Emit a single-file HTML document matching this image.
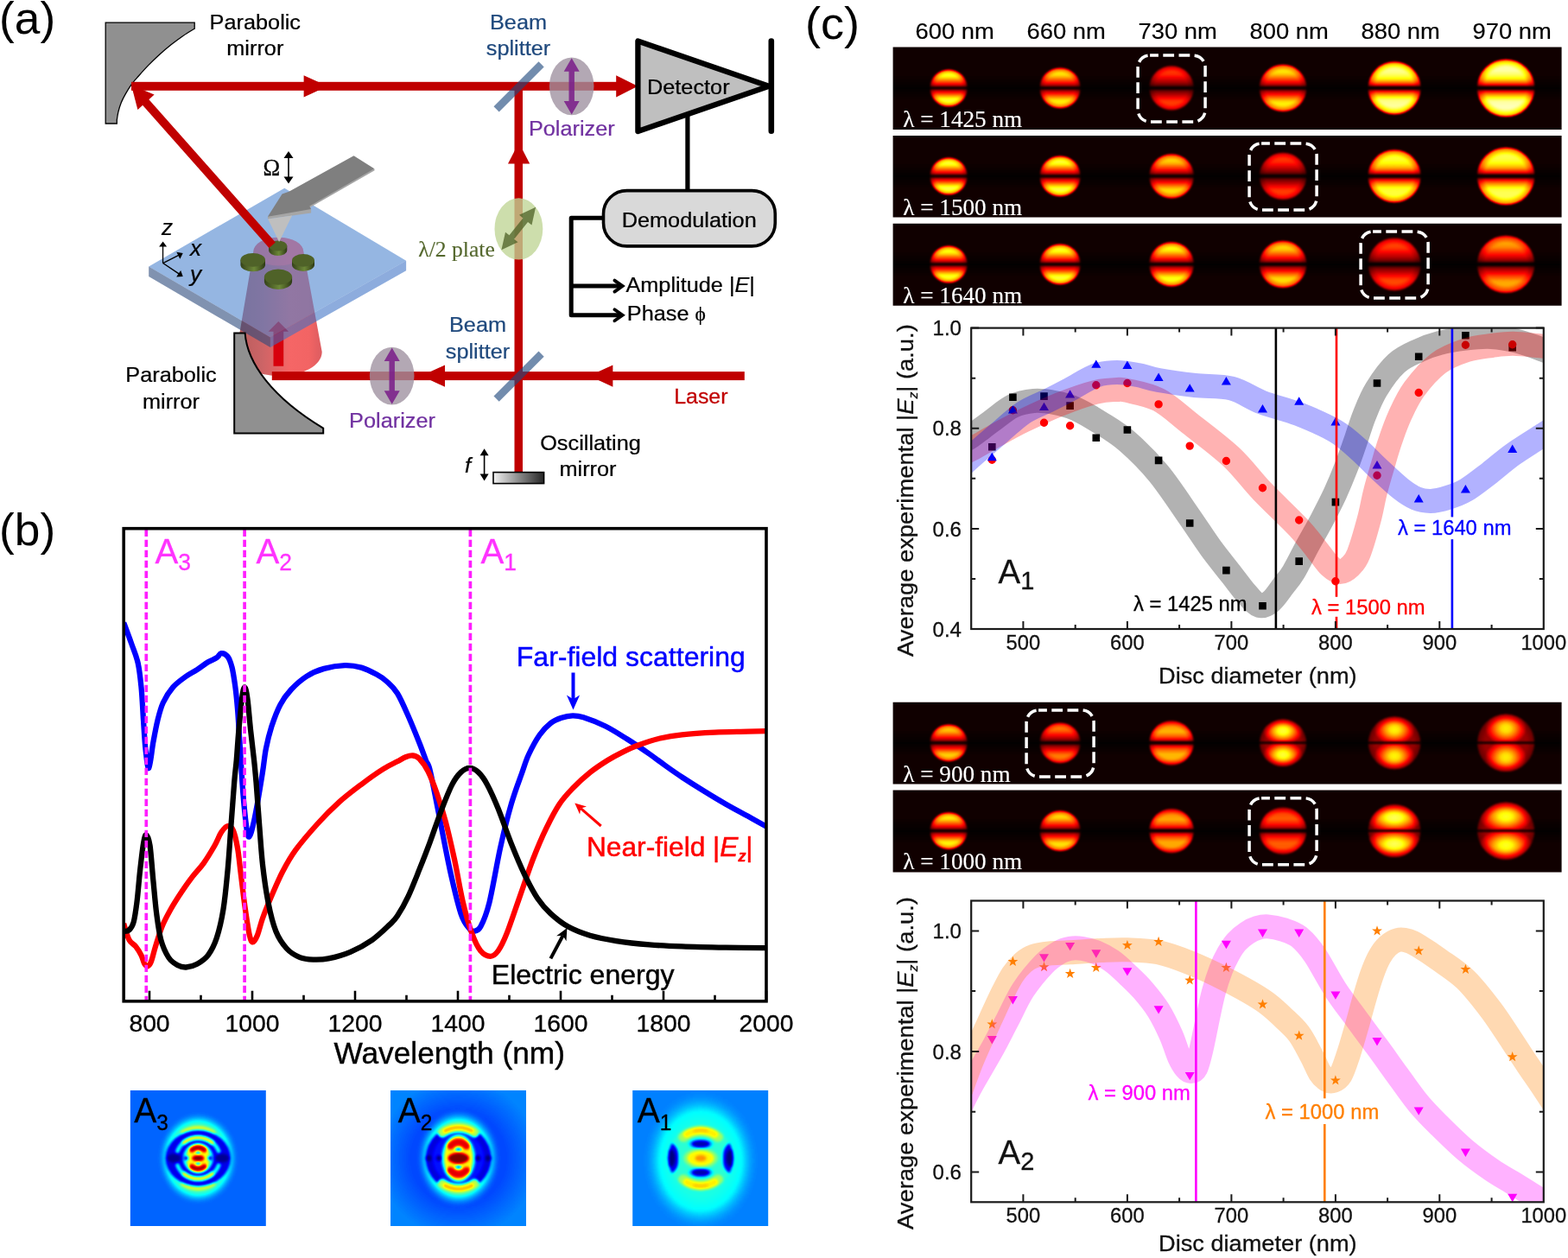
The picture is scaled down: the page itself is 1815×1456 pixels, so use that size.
<!DOCTYPE html>
<html lang="en">
<head>
<meta charset="utf-8">
<title>Near-field mapping of anapole states in silicon discs</title>
<style>
html,body{margin:0;padding:0;background:#fff}
body{width:1815px;height:1456px;overflow:hidden}
svg{display:block}
.s{font-family:"Liberation Sans",Arial,Helvetica,sans-serif}
.r{font-family:"Liberation Serif","Times New Roman",Times,serif}
</style>
</head>
<body>
<svg width="1815" height="1456" viewBox="0 0 1815 1456">
<defs>
<linearGradient id="cone" x1="0" y1="0" x2="1" y2="0"><stop offset="0" stop-color="#b85c5c"/><stop offset="0.3" stop-color="#cc6466"/><stop offset="0.62" stop-color="#f56666"/><stop offset="0.85" stop-color="#f26464"/><stop offset="1" stop-color="#dc5c60"/></linearGradient>
<linearGradient id="dside" x1="0" y1="0" x2="1" y2="0"><stop offset="0" stop-color="#34421a"/><stop offset="0.25" stop-color="#4f6228"/><stop offset="0.55" stop-color="#6c8838"/><stop offset="0.8" stop-color="#4a5c24"/><stop offset="1" stop-color="#2c3814"/></linearGradient>
<linearGradient id="osc" x1="0" y1="0" x2="1" y2="0"><stop offset="0" stop-color="#f2f2f2"/><stop offset="1" stop-color="#262626"/></linearGradient>
<linearGradient id="dge" x1="0" y1="0" x2="0" y2="1"><stop offset="0.000" stop-color="#d1d1d1"/><stop offset="0.050" stop-color="#fafafa"/><stop offset="0.125" stop-color="#ffffff"/><stop offset="0.200" stop-color="#ebebeb"/><stop offset="0.275" stop-color="#bdbdbd"/><stop offset="0.350" stop-color="#8f8f8f"/><stop offset="0.400" stop-color="#6e6e6e"/><stop offset="0.450" stop-color="#454545"/><stop offset="0.477" stop-color="#050505"/><stop offset="0.500" stop-color="#000000"/><stop offset="0.500" stop-color="#000000"/><stop offset="0.522" stop-color="#050505"/><stop offset="0.550" stop-color="#454545"/><stop offset="0.600" stop-color="#6e6e6e"/><stop offset="0.650" stop-color="#8f8f8f"/><stop offset="0.725" stop-color="#cacaca"/><stop offset="0.800" stop-color="#fbfbfb"/><stop offset="0.875" stop-color="#ffffff"/><stop offset="0.950" stop-color="#ffffff"/><stop offset="1.000" stop-color="#e0e0e0"/></linearGradient>
<linearGradient id="dgb" x1="0" y1="0" x2="0" y2="1"><stop offset="0.000" stop-color="#d9d9d9"/><stop offset="0.040" stop-color="#f7f7f7"/><stop offset="0.100" stop-color="#ffffff"/><stop offset="0.200" stop-color="#fafafa"/><stop offset="0.275" stop-color="#e6e6e6"/><stop offset="0.350" stop-color="#c2c2c2"/><stop offset="0.400" stop-color="#949494"/><stop offset="0.450" stop-color="#5c5c5c"/><stop offset="0.477" stop-color="#050505"/><stop offset="0.500" stop-color="#000000"/><stop offset="0.500" stop-color="#000000"/><stop offset="0.522" stop-color="#050505"/><stop offset="0.550" stop-color="#5c5c5c"/><stop offset="0.600" stop-color="#949494"/><stop offset="0.650" stop-color="#c2c2c2"/><stop offset="0.725" stop-color="#f6f6f6"/><stop offset="0.800" stop-color="#ffffff"/><stop offset="0.900" stop-color="#ffffff"/><stop offset="0.960" stop-color="#ffffff"/><stop offset="1.000" stop-color="#e8e8e8"/></linearGradient>
<linearGradient id="dgm" x1="0" y1="0" x2="0" y2="1"><stop offset="0.000" stop-color="#999999"/><stop offset="0.050" stop-color="#c7c7c7"/><stop offset="0.125" stop-color="#ebebeb"/><stop offset="0.250" stop-color="#ffffff"/><stop offset="0.350" stop-color="#cccccc"/><stop offset="0.440" stop-color="#808080"/><stop offset="0.477" stop-color="#050505"/><stop offset="0.500" stop-color="#000000"/><stop offset="0.500" stop-color="#000000"/><stop offset="0.522" stop-color="#050505"/><stop offset="0.560" stop-color="#808080"/><stop offset="0.650" stop-color="#cccccc"/><stop offset="0.750" stop-color="#ffffff"/><stop offset="0.875" stop-color="#fbfbfb"/><stop offset="0.950" stop-color="#d5d5d5"/><stop offset="1.000" stop-color="#a4a4a4"/></linearGradient>
<radialGradient id="dgl"><stop offset="0" stop-color="#fff"/><stop offset="0.25" stop-color="#f0f0f0"/><stop offset="0.5" stop-color="#bdbdbd"/><stop offset="0.75" stop-color="#808080"/><stop offset="1" stop-color="#474747"/></radialGradient>
<radialGradient id="rim"><stop offset="0.72" stop-color="#000" stop-opacity="0"/><stop offset="1" stop-color="#000" stop-opacity="0.38"/></radialGradient>
<linearGradient id="mid" x1="0" y1="0" x2="0" y2="1"><stop offset="0" stop-color="#000" stop-opacity="0"/><stop offset="0.5" stop-color="#000" stop-opacity="0.8"/><stop offset="1" stop-color="#000" stop-opacity="0"/></linearGradient>
<filter id="hot" color-interpolation-filters="sRGB" x="0" y="0" width="1" height="1"><feGaussianBlur stdDeviation="0.85"/><feComponentTransfer><feFuncR type="table" tableValues="0 .34 .68 1 1 1 1 1 1"/><feFuncG type="table" tableValues="0 0 0 .02 .34 .67 1 1 1"/><feFuncB type="table" tableValues="0 0 0 0 0 0 .02 .5 1"/></feComponentTransfer></filter>
<filter id="jet" color-interpolation-filters="sRGB" x="0" y="0" width="1" height="1"><feGaussianBlur stdDeviation="1.5"/><feComponentTransfer><feFuncR type="table" tableValues="0 0 0 0 .5 1 1 1 .5"/><feFuncG type="table" tableValues="0 0 .5 1 1 1 .5 0 0"/><feFuncB type="table" tableValues=".5 1 1 1 .5 0 0 0 0"/></feComponentTransfer></filter>
<radialGradient id="dk2"><stop offset="0.6" stop-color="#323232"/><stop offset="1" stop-color="#323232" stop-opacity="0"/></radialGradient>
<radialGradient id="halo3"><stop offset="0.5" stop-color="#808080"/><stop offset="0.78" stop-color="#666666"/><stop offset="1" stop-color="#393939" stop-opacity="0"/></radialGradient>
<radialGradient id="halo2"><stop offset="0.5" stop-color="#8c8c8c"/><stop offset="0.74" stop-color="#6b6b6b"/><stop offset="1" stop-color="#333333" stop-opacity="0"/></radialGradient>
<radialGradient id="halo1"><stop offset="0.5" stop-color="#666666"/><stop offset="0.7" stop-color="#5f5f5f"/><stop offset="1" stop-color="#404040" stop-opacity="0"/></radialGradient>
<clipPath id="fm3"><rect x="150.8" y="1262" width="157" height="157"/></clipPath>
<clipPath id="fmc3"><circle cx="229.3" cy="1340.5" r="37.6"/></clipPath>
<clipPath id="fm2"><rect x="452" y="1262" width="157" height="157"/></clipPath>
<clipPath id="fmc2"><circle cx="530.7" cy="1340.5" r="37.6"/></clipPath>
<clipPath id="fm1"><rect x="732.2" y="1262" width="157" height="157"/></clipPath>
<clipPath id="fmc1"><circle cx="811.1" cy="1340.5" r="37.6"/></clipPath>
<clipPath id="lc0"><circle cx="1485.1" cy="859.8" r="27.2"/></clipPath>
<clipPath id="lc1"><circle cx="1614.1" cy="859.8" r="30.4"/></clipPath>
<clipPath id="lc2"><circle cx="1743.1" cy="859.8" r="33.2"/></clipPath>
<clipPath id="lc3"><circle cx="1614.1" cy="961.6" r="30.4"/></clipPath>
<clipPath id="lc4"><circle cx="1743.1" cy="961.6" r="33.2"/></clipPath>
<clipPath id="st0"><rect x="1033.6" y="54.6" width="774" height="95.4"/></clipPath>
<clipPath id="st1"><rect x="1033.6" y="157" width="774" height="94.6"/></clipPath>
<clipPath id="st2"><rect x="1033.6" y="258.7" width="774" height="95.1"/></clipPath>
<clipPath id="st3"><rect x="1033.6" y="812.8" width="774" height="94.7"/></clipPath>
<clipPath id="st4"><rect x="1033.6" y="914.6" width="774" height="94.8"/></clipPath>
</defs>
<text class="s" transform="translate(-0.9 39.4) scale(1.024 1)" font-size="52">(a)</text>
<path d="M122.2 26.1H225.2V33.1C222.9 34.5 216.1 38.6 211.6 41.7C207.1 44.8 202.7 48.1 198.3 51.6C193.9 55.1 189.5 58.8 185.1 62.8C180.7 66.8 176.3 70.9 171.9 75.4C167.5 79.9 162 86.2 158.7 89.9C155.4 93.7 154.3 94.8 152.1 97.9C149.9 101 147.5 104.9 145.5 108.4C143.5 111.9 141.6 115.5 140.2 119C138.8 122.5 137.7 126.3 136.9 129.6C136.1 132.9 135.6 137.3 135.3 138.8V143H122.2Z" fill="#909090" stroke="#000" stroke-width="1.3"/>
<text class="s" transform="translate(295.3 33.6) scale(1.045 1)" font-size="24.2" text-anchor="middle" stroke="#000" stroke-width="0.25">Parabolic</text>
<text class="s" transform="translate(295.3 64) scale(1.045 1)" font-size="24.2" text-anchor="middle" stroke="#000" stroke-width="0.25">mirror</text>
<path d="M293.3 291.2A29 16.4 0 0 1 351.3 291.2L372.7 407.2A49.5 28 0 0 1 273.7 407.2Z" fill="url(#cone)"/>
<path d="M316.5 423.8V383.7H310.6L322.3 371.9L334 383.7H328.2V423.8Z" fill="#d8000c"/>
<polygon points="172.2,308.5 329.3,217.8 470.1,301.7 312.9,390.4" fill="#4b83ce" fill-opacity="0.59"/>
<polygon points="172.2,308.5 312.9,390.4 312.9,402 172.2,320.1" fill="#2c4a7c" fill-opacity="0.6"/>
<polygon points="312.9,390.4 470.1,301.7 470.1,313.3 312.9,402" fill="#3a70c4" fill-opacity="0.58"/>
<ellipse cx="322.3" cy="291.2" rx="29" ry="16.4" fill="#c878a8" fill-opacity="0.32"/>
<path d="M271.2 385.4H283.6C286 420 315 460 374.2 495.6V501.4H271.2Z" fill="#909090" stroke="#000" stroke-width="2"/>
<text class="s" transform="translate(198 442.2) scale(1.045 1)" font-size="24.2" text-anchor="middle" stroke="#000" stroke-width="0.25">Parabolic</text>
<text class="s" transform="translate(198 472.8) scale(1.045 1)" font-size="24.2" text-anchor="middle" stroke="#000" stroke-width="0.25">mirror</text>
<path d="M311.1 284.6v5.4a10.6 6 0 0 0 21.2 0v-5.4z" fill="url(#dside)"/><ellipse cx="321.7" cy="284.6" rx="10.6" ry="6" fill="#4f6228"/>
<path d="M278.4 300.8v5.6a14.3 7.9 0 0 0 28.6 0v-5.6z" fill="url(#dside)"/><ellipse cx="292.7" cy="300.8" rx="14.3" ry="7.9" fill="#4f6228"/>
<path d="M338 301.4v5.2a13 7.3 0 0 0 26 0v-5.2z" fill="url(#dside)"/><ellipse cx="351" cy="301.4" rx="13" ry="7.3" fill="#4f6228"/>
<path d="M305.9 320.6v5.2a16.1 9.1 0 0 0 32.2 0v-5.2z" fill="url(#dside)"/><ellipse cx="322" cy="320.6" rx="16.1" ry="9.1" fill="#4f6228"/>
<line x1="315.2" y1="283.7" x2="163" y2="112" stroke="#c00000" stroke-width="9.8"/>
<polygon points="152,98.6 178.6,109.6 159.4,127" fill="#c00000"/>
<polygon points="309.9,250.8 309.9,253.6 360.1,246.4 360.1,242 358.6,240.2 433.6,197.2 433.3,195.3" fill="#a6a6a6"/>
<polygon points="409.5,180.3 433.3,195.3 358.3,238.5 360.1,242 309.9,250.8 326.6,224.4 334.5,221.7" fill="#7f7f7f"/>
<polygon points="310.2,253.4 338.1,249.4 323.1,279.9" fill="#bfbfbf"/>
<text class="r" x="304.6" y="202.6" font-size="26.5" stroke="#000" stroke-width="0.3">Ω</text>
<polygon points="334,174.9 328.5,182.9 333.2,182.9 333.2,204.4 328.5,204.4 334,212.4 339.5,204.4 334.8,204.4 334.8,182.9 339.5,182.9" fill="#000"/>
<text class="s" transform="translate(187 271.5) scale(1.045 1)" font-size="25" font-style="italic" stroke="#000" stroke-width="0.25">z</text>
<text class="s" transform="translate(220 295.5) scale(1.045 1)" font-size="25" font-style="italic" stroke="#000" stroke-width="0.25">x</text>
<text class="s" transform="translate(220 326) scale(1.045 1)" font-size="25" font-style="italic" stroke="#000" stroke-width="0.25">y</text>
<polygon points="189.2,304.6 189.2,285.5 193.1,285.5 188.6,279.5 184.1,285.5 187.9,285.5 187.9,304.6" fill="#000"/>
<polygon points="188.9,305.2 206.6,296.3 208.4,299.7 211.7,293 204.3,291.7 206,295.1 188.3,304" fill="#000"/>
<polygon points="188.2,305.1 206.3,317.2 204.2,320.4 211.7,320 209.2,312.9 207.1,316.1 189,304.1" fill="#000"/>
<rect x="152" y="94.8" width="562" height="10" fill="#c00000"/>
<polygon points="351.6,87.2 379.2,99.8 351.6,112.4" fill="#c00000"/>
<polygon points="713.2,87.2 738.3,99.8 713.2,112.4" fill="#c00000"/>
<rect x="595.5" y="99.8" width="9.5" height="446.5" fill="#c00000"/>
<polygon points="588,189.4 600.6,165.1 613.2,189.4" fill="#c00000"/>
<rect x="314.8" y="430.1" width="547" height="10" fill="#c00000"/>
<polygon points="515,422.5 487.5,435.1 515,447.7" fill="#c00000"/>
<polygon points="709.4,422.5 681.9,435.1 709.4,447.7" fill="#c00000"/>
<line x1="574.6" y1="126.4" x2="626.6" y2="74.4" stroke="#1f497d" stroke-opacity="0.63" stroke-width="8.8"/>
<line x1="574.6" y1="461.6" x2="626.6" y2="409.6" stroke="#1f497d" stroke-opacity="0.63" stroke-width="8.8"/>
<text class="s" transform="translate(600 33.6) scale(1.045 1)" font-size="24.2" text-anchor="middle" fill="#1f497d" stroke="#1f497d" stroke-width="0.25">Beam</text>
<text class="s" transform="translate(600 64) scale(1.045 1)" font-size="24.2" text-anchor="middle" fill="#1f497d" stroke="#1f497d" stroke-width="0.25">splitter</text>
<text class="s" transform="translate(553 384.2) scale(1.045 1)" font-size="24.2" text-anchor="middle" fill="#1f497d" stroke="#1f497d" stroke-width="0.25">Beam</text>
<text class="s" transform="translate(553 414.6) scale(1.045 1)" font-size="24.2" text-anchor="middle" fill="#1f497d" stroke="#1f497d" stroke-width="0.25">splitter</text>
<ellipse cx="661.7" cy="99.8" rx="25.8" ry="33.4" fill="#9e91a0" fill-opacity="0.79"/>
<polygon points="661.7,67.2 652.7,82.7 658.5,82.7 658.5,116.9 652.7,116.9 661.7,132.4 670.7,116.9 664.9,116.9 664.9,82.7 670.7,82.7" fill="#7b1f8a" fill-opacity="0.88"/>
<ellipse cx="453.7" cy="435.1" rx="25.8" ry="33.4" fill="#9e91a0" fill-opacity="0.79"/>
<polygon points="453.7,402.5 444.7,418 450.5,418 450.5,452.2 444.7,452.2 453.7,467.7 462.7,452.2 456.9,452.2 456.9,418 462.7,418" fill="#7b1f8a" fill-opacity="0.88"/>
<text class="s" transform="translate(661.8 156.5) scale(1.045 1)" font-size="24.2" text-anchor="middle" fill="#7030a0" stroke="#7030a0" stroke-width="0.25">Polarizer</text>
<text class="s" transform="translate(454 494.8) scale(1.045 1)" font-size="24.2" text-anchor="middle" fill="#7030a0" stroke="#7030a0" stroke-width="0.25">Polarizer</text>
<ellipse cx="600.4" cy="264.9" rx="27.9" ry="35.7" fill="#c0d596" fill-opacity="0.79"/>
<polygon points="580.4,289.3 599.5,280.3 595.1,276.7 611,256.9 615.5,260.4 620.1,239.8 601,248.8 605.4,252.4 589.5,272.2 585,268.7" fill="#4f6228" fill-opacity="0.76"/>
<text class="r" x="484.3" y="297.3" font-size="25.6" fill="#55682e" stroke="#55682e" stroke-width="0.15">λ/2 plate</text>
<polygon points="738.4,47.5 738.4,152 890,99.75" fill="#bfbfbf" stroke="#000" stroke-width="6.3" stroke-linejoin="round"/>
<line x1="892.8" y1="47.6" x2="892.8" y2="151.8" stroke="#000" stroke-width="6.6" stroke-linecap="round"/>
<text class="s" transform="translate(796.8 109.4) scale(1.045 1)" font-size="24.2" text-anchor="middle" stroke="#000" stroke-width="0.25">Detector</text>
<line x1="795.9" y1="132" x2="795.9" y2="221" stroke="#000" stroke-width="5.2"/>
<rect x="698.5" y="220.6" width="198.8" height="64.3" rx="27" fill="#d9d9d9" stroke="#000" stroke-width="3.6"/>
<text class="s" transform="translate(797.7 262.5) scale(1.045 1)" font-size="24.2" text-anchor="middle" stroke="#000" stroke-width="0.25">Demodulation</text>
<path d="M698 252.2H661.2V364.8H718M661.2 331.1H718" fill="none" stroke="#000" stroke-width="5" stroke-linejoin="round"/>
<path d="M711.4 324.6L720.6 331.1L711.4 337.6M711.4 358.3L720.6 364.8L711.4 371.3" fill="none" stroke="#000" stroke-width="3.8" stroke-linecap="round" stroke-linejoin="miter"/>
<text class="s" transform="translate(724.4 338) scale(1.045 1)" font-size="24.2" stroke="#000" stroke-width="0.25">Amplitude |<tspan font-style="italic">E</tspan>|</text>
<text class="s" transform="translate(725.8 371.2) scale(1.045 1)" font-size="24.2" stroke="#000" stroke-width="0.25">Phase <tspan class="r" font-size="22.5">ϕ</tspan></text>
<text class="s" transform="translate(780.2 466.7) scale(1.030 1)" font-size="24.2" fill="#c00000" stroke="#c00000" stroke-width="0.25">Laser</text>
<rect x="571" y="546.6" width="58.6" height="13" fill="url(#osc)" stroke="#000" stroke-width="1.6"/>
<text class="s" transform="translate(683.5 520.5) scale(1.045 1)" font-size="24.2" text-anchor="middle" stroke="#000" stroke-width="0.25">Oscillating</text>
<text class="s" transform="translate(680.5 551) scale(1.045 1)" font-size="24.2" text-anchor="middle" stroke="#000" stroke-width="0.25">mirror</text>
<text class="s" transform="translate(538 546.5) scale(1.045 1)" font-size="24.2" font-style="italic" stroke="#000" stroke-width="0.25">f</text>
<polygon points="560.6,519.2 555.6,527.2 559.8,527.2 559.8,548.5 555.6,548.5 560.6,556.5 565.6,548.5 561.4,548.5 561.4,527.2 565.6,527.2" fill="#000"/>
<text class="s" transform="translate(-0.9 630.6) scale(1.024 1)" font-size="52">(b)</text>
<clipPath id="cpb"><rect x="143.2" y="611.7" width="743.8" height="547.1"/></clipPath>
<g fill="none" stroke-linejoin="round" clip-path="url(#cpb)">
<path d="M143.2 720.7C144.7 724.7 149.3 736.9 152.1 744.7C154.8 752.5 157.8 759 159.7 767.5C161.6 776 162.4 784.4 163.5 795.4C164.6 806.4 165.2 821.4 166 833.4C166.8 845.4 167.4 858.1 168.5 867.4C169.6 876.7 170.8 890.4 172.3 889C173.8 887.6 175.7 868.1 177.4 858.8C179.1 849.5 180.6 841 182.5 833.4C184.4 825.8 185.9 819.5 188.8 813.2C191.8 806.9 195.8 800.5 200.2 795.4C204.6 790.3 210.8 786.2 215.4 782.8C220.1 779.4 223.9 777.9 228.1 775.1C232.3 772.4 237 768.6 240.8 766.3C244.6 764 248.4 762.9 250.9 761.2C253.4 759.5 253.9 756.3 256 756.1C258.1 755.9 261.5 757.2 263.6 760C265.7 762.8 267.1 766.7 268.6 772.6C270.1 778.5 271.3 787.4 272.4 795.4C273.5 803.4 274.1 810.2 275 820.8C275.9 831.4 276.4 842.6 277.5 858.8C278.6 875 280 901.8 281.3 918C282.6 934.2 284 947.5 285.1 956C286.2 964.5 286.9 968.7 288.2 968.7C289.5 968.7 291.1 962.3 292.7 956C294.3 949.7 295.9 941.2 297.8 930.7C299.7 920.2 302.4 903.4 304.1 892.7C305.8 882 306.2 875 307.9 866.4C309.6 857.8 311.6 849.5 314.3 841C317.1 832.5 320.6 822.9 324.4 815.7C328.2 808.5 332 803.5 337.1 798C342.2 792.5 348.5 786.8 354.8 782.8C361.1 778.8 367.7 776 375.1 773.9C382.5 771.8 392 770.3 399.2 770.1C406.4 769.9 412.1 770.9 418.2 772.6C424.3 774.4 430.9 777.9 435.9 780.6C440.9 783.3 444 785.4 448 789C452 792.6 455.9 795.8 460 802.5C464.1 809.2 468.5 819.5 472.7 829C476.9 838.5 481.9 851 485.3 859.5C488.7 868 490.9 874.5 493 880C495.1 885.5 495.5 882.1 498 892.7C500.5 903.3 504.4 924.4 508.2 943.4C512 962.4 516.6 987.7 520.8 1006.7C525 1025.7 529.7 1046 533.5 1057.4C537.3 1068.8 541.1 1071.8 543.6 1075.2C546.1 1078.6 546.6 1078.1 548.7 1077.7C550.8 1077.3 553.3 1078.1 556.3 1072.6C559.2 1067.1 562.6 1059.9 566.4 1044.7C570.2 1029.5 574.9 1000.4 579.1 981.4C583.3 962.4 587.6 945.1 591.8 930.7C595.9 916.3 600.6 904.6 604 895C607.4 885.4 608.6 880.4 612.1 873C615.6 865.6 620.5 856.5 624.7 850.5C628.9 844.5 633.2 840.3 637.4 837C641.6 833.7 645.9 832.2 650.1 830.7C654.3 829.2 658.6 828.4 662.8 828.3C667 828.2 669.1 828.2 675.4 830.2C681.7 832.2 692.3 836.3 700.8 840.5C709.2 844.7 717.6 850.2 726.1 855.5C734.6 860.8 744.2 867.4 751.5 872.5C758.8 877.6 763.7 881.5 770 886C776.3 890.5 782 894.6 789.5 899.5C797 904.4 806.3 910.3 814.8 915.5C823.2 920.7 831.8 925.9 840.2 930.7C848.7 935.6 857.7 940.3 865.5 944.6C873.3 948.9 883.4 954.6 887 956.6" stroke="#0000ff" stroke-width="6.3"/>
<path d="M143.2 1069C144.2 1072.1 147.2 1083.4 149.5 1087.8C151.8 1092.2 154.8 1092.4 157.1 1095.4C159.4 1098.4 161.8 1102.2 163.5 1105.6C165.2 1109 166 1113.6 167.3 1115.7C168.6 1117.8 169.8 1118.6 171.1 1118.2C172.4 1117.8 173.4 1117 174.9 1113.2C176.4 1109.4 177.9 1102.2 180 1095.4C182.1 1088.6 184.6 1079.8 187.5 1072.6C190.4 1065.4 193.9 1059.1 197.7 1052.3C201.5 1045.5 206.2 1038.3 210.4 1032C214.6 1025.7 218.8 1019.8 223 1014.3C227.2 1008.8 231.5 1005 235.7 999.1C239.9 993.2 245 984.7 248.4 978.8C251.8 972.9 253.5 967.4 256 963.6C258.5 959.8 261.3 956.4 263.6 956C265.9 955.6 268 956.9 269.9 961.1C271.8 965.3 273.5 973 275 981.4C276.5 989.8 277.3 1000 278.8 1011.8C280.3 1023.6 282.2 1040.5 283.9 1052.3C285.6 1064.1 287.4 1076.4 288.9 1082.8C290.4 1089.2 291.2 1090.4 292.7 1090.4C294.2 1090.4 295.9 1087.5 297.8 1082.8C299.7 1078.1 301.4 1070.1 304.1 1062.5C306.9 1054.9 310.5 1046 314.3 1037.1C318.1 1028.2 322.3 1018.2 326.9 1009.3C331.5 1000.4 335.3 993.2 342.1 983.9C348.9 974.6 359.1 962.8 367.5 953.5C375.9 944.2 384.4 935.8 392.8 928.2C401.2 920.6 409.8 914.2 418.2 907.9C426.6 901.5 436.5 894.5 443.5 890.1C450.5 885.7 455.6 883.6 460 881.3C464.4 878.9 467 877.1 470 876C473 874.9 475.4 874.2 478 874.5C480.6 874.8 482.4 875 485.3 878C488.2 881 492.1 886 495.5 892.7C498.9 899.4 502.2 908.3 505.6 918C509 927.7 512.4 938.3 515.8 951C519.2 963.7 522.5 978.4 525.9 994C529.3 1009.6 532.6 1030.3 536 1044.7C539.4 1059.1 542.8 1070.9 546.2 1080.2C549.6 1089.5 552.7 1096.1 556.3 1100.5C559.9 1104.9 564.3 1106.8 567.7 1106.8C571.1 1106.8 573.4 1104.9 576.6 1100.5C579.8 1096.1 582.5 1090.8 586.7 1080.2C590.9 1069.6 596.8 1051.5 601.9 1037.1C607 1022.7 612 1007.1 617.1 994C622.2 980.9 627.2 969.1 632.3 958.6C637.4 948.1 642.4 938.4 647.5 930.7C652.6 923 656.9 918.6 662.8 912.5C668.7 906.4 676.2 899.4 683 894C689.8 888.6 697.1 883.9 703.3 880C709.5 876.1 714.1 873.7 720 870.8C725.9 867.9 731.4 865.2 738.8 862.5C746.1 859.8 755.6 856.5 764.1 854.5C772.6 852.5 778.9 851.4 789.5 850.3C800.1 849.1 814.8 848.2 827.5 847.6C840.2 847 855.6 846.9 865.5 846.6C875.4 846.4 883.4 846.2 887 846.1" stroke="#ff0000" stroke-width="6.3"/>
<path d="M143.2 1078C144.2 1077.7 147.6 1078.2 149.5 1076.4C151.4 1074.7 153.1 1072.8 154.6 1067.5C156.1 1062.2 157.1 1054.8 158.4 1044.7C159.7 1034.6 160.9 1018.1 162.2 1006.7C163.5 995.3 164.8 983 166 976.3C167.2 969.5 168 965.8 169.3 966.2C170.6 966.6 172.2 969.9 173.6 978.8C174.9 987.7 176.1 1006.3 177.4 1019.4C178.7 1032.5 179.7 1046 181.2 1057.4C182.7 1068.8 184 1079.3 186.3 1087.8C188.6 1096.2 191.9 1103.2 195.1 1108.1C198.3 1113 201.9 1115.1 205.3 1117C208.7 1118.9 211.6 1119.7 215.4 1119.5C219.2 1119.3 223.9 1118 228.1 1115.7C232.3 1113.4 237 1110.7 240.8 1105.6C244.6 1100.5 248 1094.2 250.9 1085.3C253.8 1076.4 256.4 1065.4 258.5 1052.3C260.6 1039.2 262.1 1022.8 263.6 1006.7C265.1 990.7 266.1 972.9 267.4 956C268.7 939.1 270.1 918 271.2 905.3C272.2 892.6 272.8 889.9 273.7 880C274.6 870.1 275.2 858.1 276.3 846.1C277.4 834.1 279 816.6 280.1 808.1C281.2 799.6 282.1 795.4 283.1 795.4C284.2 795.4 285.2 799.6 286.4 808.1C287.6 816.6 288.9 834.3 290.2 846.1C291.5 857.9 292.9 869.2 294 879.1C295.1 889 295.4 892.5 296.5 905.3C297.6 918.1 299 940 300.3 956C301.6 972 302.4 986.8 304.1 1001.6C305.8 1016.4 308 1032 310.5 1044.7C313 1057.4 315.7 1068.8 319.3 1077.7C322.9 1086.6 327.4 1092.9 332 1098C336.6 1103.1 342.1 1106 347.2 1108.1C352.3 1110.2 356.9 1110.4 362.4 1110.6C367.9 1110.8 373 1110.9 380.2 1109.4C387.4 1107.9 397.1 1105.4 405.5 1101.8C413.9 1098.2 423.3 1093.1 430.9 1087.8C438.5 1082.5 446.2 1074.7 451.1 1070.1C456 1065.5 456.4 1065.5 460 1060C463.6 1054.5 468.5 1046 472.7 1037.1C476.9 1028.2 481.1 1017.2 485.3 1006.7C489.5 996.2 493.8 985.2 498 973.8C502.2 962.4 506.5 949.3 510.7 938.3C514.9 927.3 519.6 915.3 523.4 907.9C527.2 900.5 530.1 897.1 533.5 893.9C536.9 890.7 540.2 888.9 543.6 888.9C547 888.9 550.4 890.7 553.8 893.9C557.2 897.1 560.1 900.9 563.9 907.9C567.7 914.9 572 924.4 576.6 935.8C581.2 947.2 586.7 963.6 591.8 976.3C596.9 989 601.9 1001.2 607 1011.8C612.1 1022.4 617.1 1032.1 622.2 1039.7C627.3 1047.3 631.5 1051.9 637.4 1057.4C643.3 1062.9 650.1 1068.4 657.7 1072.6C665.3 1076.8 673.7 1080 683 1082.8C692.3 1085.5 702 1087.3 713.4 1089.1C724.8 1090.9 738.8 1092.4 751.5 1093.4C764.2 1094.5 774.7 1094.9 789.5 1095.4C804.3 1096 824 1096.4 840.2 1096.7C856.5 1097 879.2 1097.1 887 1097.2" stroke="#000" stroke-width="6.3"/>
</g>
<line x1="169.3" y1="612.7" x2="169.3" y2="1158.8" stroke="#ff1eff" stroke-width="3.7" stroke-dasharray="8.4 3.6"/>
<line x1="283.1" y1="612.7" x2="283.1" y2="1158.8" stroke="#ff1eff" stroke-width="3.7" stroke-dasharray="8.4 3.6"/>
<line x1="544.4" y1="612.7" x2="544.4" y2="1158.8" stroke="#ff1eff" stroke-width="3.7" stroke-dasharray="8.4 3.6"/>
<path d="M173 1158.8v-12M232.5 1158.8v-7M292 1158.8v-12M351.5 1158.8v-7M411 1158.8v-12M470.5 1158.8v-7M530 1158.8v-12M589.5 1158.8v-7M649 1158.8v-12M708.5 1158.8v-7M768 1158.8v-12M827.5 1158.8v-7M887 1158.8v-12" stroke="#000" stroke-width="2.6" fill="none"/>
<rect x="143.2" y="611.7" width="743.8" height="547.1" fill="none" stroke="#000" stroke-width="3.6"/>
<text class="s" transform="translate(173 1194.2) scale(1.030 1)" font-size="27.5" text-anchor="middle" stroke="#000" stroke-width="0.3">800</text>
<text class="s" transform="translate(292 1194.2) scale(1.030 1)" font-size="27.5" text-anchor="middle" stroke="#000" stroke-width="0.3">1000</text>
<text class="s" transform="translate(411 1194.2) scale(1.030 1)" font-size="27.5" text-anchor="middle" stroke="#000" stroke-width="0.3">1200</text>
<text class="s" transform="translate(530 1194.2) scale(1.030 1)" font-size="27.5" text-anchor="middle" stroke="#000" stroke-width="0.3">1400</text>
<text class="s" transform="translate(649 1194.2) scale(1.030 1)" font-size="27.5" text-anchor="middle" stroke="#000" stroke-width="0.3">1600</text>
<text class="s" transform="translate(768 1194.2) scale(1.030 1)" font-size="27.5" text-anchor="middle" stroke="#000" stroke-width="0.3">1800</text>
<text class="s" transform="translate(887 1194.2) scale(1.030 1)" font-size="27.5" text-anchor="middle" stroke="#000" stroke-width="0.3">2000</text>
<text class="s" transform="translate(520.2 1230.6) scale(1.024 1)" font-size="34.5" text-anchor="middle" stroke="#000" stroke-width="0.4">Wavelength (nm)</text>
<text class="s" transform="translate(179.4 652.4) scale(0.98 1)" font-size="41" fill="#ff33ff" stroke="#ff33ff" stroke-width="0.3">A<tspan font-size="27" dy="7.6">3</tspan></text>
<text class="s" transform="translate(296.4 652.4) scale(0.98 1)" font-size="41" fill="#ff33ff" stroke="#ff33ff" stroke-width="0.3">A<tspan font-size="27" dy="7.6">2</tspan></text>
<text class="s" transform="translate(556.4 652.4) scale(0.98 1)" font-size="41" fill="#ff33ff" stroke="#ff33ff" stroke-width="0.3">A<tspan font-size="27" dy="7.6">1</tspan></text>
<text class="s" x="597.8" y="771.4" font-size="32" fill="#0000ff" stroke="#0000ff" stroke-width="0.45">Far-field scattering</text>
<line x1="663.5" y1="778.5" x2="663.5" y2="809.3" stroke="#0000ff" stroke-width="4"/><polygon points="663.5,821.5 655.9,804.5 663.5,809.3 671.1,804.5" fill="#0000ff"/>
<text class="s" transform="translate(679 990.6) scale(0.99 1)" font-size="32" fill="#ff0000" stroke="#f00" stroke-width="0.5">Near-field |<tspan font-style="italic">E</tspan><tspan font-style="italic" font-weight="bold" font-size="18" dy="6.5">z</tspan><tspan dy="-6.5">|</tspan></text>
<line x1="695.7" y1="956" x2="672.3" y2="935.6" stroke="#ff0000" stroke-width="3"/><polygon points="665.3,929.4 679,933.4 672.3,935.6 671.1,942.5" fill="#ff0000"/>
<text class="s" x="568.8" y="1139.4" font-size="32" stroke="#000" stroke-width="0.45">Electric energy</text>
<line x1="637.4" y1="1109.4" x2="651.6" y2="1082.8" stroke="#000" stroke-width="4"/><polygon points="656.4,1073.9 655.5,1089.3 651.6,1082.8 644.1,1083.2" fill="#000"/>
<g clip-path="url(#fm3)"><g filter="url(#jet)">
<rect x="142.8" y="1254" width="173" height="173" fill="#393939"/>
<ellipse cx="229.3" cy="1340.5" rx="47" ry="54" fill="url(#halo3)"/>
<path d="M211.3 1310.6A34 35.2 0 0 1 247.3 1310.6" fill="none" stroke="#999999" stroke-width="4.6" stroke-linecap="round"/><path d="M247.3 1370.4A34 35.2 0 0 1 211.3 1370.4" fill="none" stroke="#999999" stroke-width="4.6" stroke-linecap="round"/>
<ellipse cx="229.3" cy="1340.5" rx="37.6" ry="32.4" fill="#1a1a1a"/>
<path d="M205.4 1332.3A25.4 24 0 0 1 253.2 1332.3" fill="none" stroke="#666666" stroke-width="4.6" stroke-linecap="round"/><path d="M253.2 1348.7A25.4 24 0 0 1 205.4 1348.7" fill="none" stroke="#666666" stroke-width="4.6" stroke-linecap="round"/>
<path d="M213.1 1322.3A25.2 23.8 0 0 1 245.5 1322.3" fill="none" stroke="#a1a1a1" stroke-width="5" stroke-linecap="round"/><path d="M245.5 1358.7A25.2 23.8 0 0 1 213.1 1358.7" fill="none" stroke="#a1a1a1" stroke-width="5" stroke-linecap="round"/>
<ellipse cx="229.3" cy="1340.5" rx="17.6" ry="17.2" fill="#666666"/>
<ellipse cx="229.3" cy="1340.5" rx="13.5" ry="16.6" fill="#9e9e9e"/>
<path d="M222.2 1330.6A12 12.2 0 0 1 236.4 1330.6" fill="none" stroke="#f7f7f7" stroke-width="6" stroke-linecap="round"/><path d="M236.4 1350.4A12 12.2 0 0 1 222.2 1350.4" fill="none" stroke="#f7f7f7" stroke-width="6" stroke-linecap="round"/>
<ellipse cx="229.3" cy="1340.5" rx="7" ry="3.6" fill="#ffffff"/>
<ellipse cx="229.3" cy="1334.2" rx="2.4" ry="1.2" fill="#1a1a1a"/><ellipse cx="229.3" cy="1346.8" rx="2.4" ry="1.2" fill="#1a1a1a"/>
<ellipse cx="215.5" cy="1340.5" rx="2.6" ry="2.4" fill="#1a1a1a"/><ellipse cx="243.1" cy="1340.5" rx="2.6" ry="2.4" fill="#1a1a1a"/>
<ellipse cx="201.3" cy="1340.5" rx="8" ry="5" fill="#050505"/><ellipse cx="257.3" cy="1340.5" rx="8" ry="5" fill="#050505"/>
</g></g>
<text class="s" transform="translate(155.2 1298.8) scale(0.98 1)" font-size="39.8" stroke="#000" stroke-width="0.3">A<tspan font-size="25" dy="8.7">3</tspan></text>
<g clip-path="url(#fm2)"><g filter="url(#jet)">
<rect x="444" y="1254" width="173" height="173" fill="#414141"/>
<circle cx="530.7" cy="1340.5" r="92" fill="url(#dk2)"/>
<ellipse cx="530.7" cy="1340.5" rx="49" ry="58" fill="url(#halo2)"/>
<ellipse cx="530.7" cy="1340.5" rx="37.8" ry="37.8" fill="#171717"/>
<ellipse cx="530.7" cy="1340.5" rx="30" ry="30" fill="#242424"/>
<path d="M512.2 1311A34 35.2 0 0 1 549.2 1311" fill="none" stroke="#8c8c8c" stroke-width="10.5" stroke-linecap="round"/><path d="M549.2 1370A34 35.2 0 0 1 512.2 1370" fill="none" stroke="#8c8c8c" stroke-width="10.5" stroke-linecap="round"/>
<path d="M515.3 1308.8A34 35.6 0 0 1 546.1 1308.8" fill="none" stroke="#b2b2b2" stroke-width="5" stroke-linecap="round"/><path d="M546.1 1372.2A34 35.6 0 0 1 515.3 1372.2" fill="none" stroke="#b2b2b2" stroke-width="5" stroke-linecap="round"/>
<ellipse cx="530.7" cy="1340.5" rx="19.5" ry="27.6" fill="#666666"/>
<ellipse cx="530.7" cy="1340.5" rx="16.4" ry="25.6" fill="#a1a1a1"/>
<path d="M521.4 1326.3A14.4 18.6 0 0 1 540 1326.3" fill="none" stroke="#e6e6e6" stroke-width="8.4" stroke-linecap="round"/><path d="M540 1354.7A14.4 18.6 0 0 1 521.4 1354.7" fill="none" stroke="#e6e6e6" stroke-width="8.4" stroke-linecap="round"/>
<ellipse cx="530.7" cy="1340.5" rx="12" ry="6.4" fill="#ffffff"/>
<ellipse cx="530.7" cy="1330.3" rx="3.4" ry="1.5" fill="#1a1a1a"/><ellipse cx="530.7" cy="1350.7" rx="3.4" ry="1.5" fill="#1a1a1a"/>
<ellipse cx="496.2" cy="1340.5" rx="3.5" ry="3.5" fill="#000000"/><ellipse cx="565.2" cy="1340.5" rx="3.5" ry="3.5" fill="#000000"/>
<ellipse cx="508.2" cy="1340.5" rx="3" ry="3" fill="#000000"/><ellipse cx="553.2" cy="1340.5" rx="3" ry="3" fill="#000000"/>
</g></g>
<text class="s" transform="translate(460.8 1298.8) scale(0.98 1)" font-size="39.8" stroke="#000" stroke-width="0.3">A<tspan font-size="25" dy="8.7">2</tspan></text>
<g clip-path="url(#fm1)"><g filter="url(#jet)">
<rect x="724.2" y="1254" width="173" height="173" fill="#404040"/>
<ellipse cx="811.1" cy="1343.5" rx="68" ry="82" fill="url(#halo1)"/>
<g clip-path="url(#fmc1)">
<ellipse cx="811.1" cy="1340.5" rx="38" ry="38" fill="#6a6a6a"/>
<path d="M791.1 1315.6A32.5 31.6 0 0 1 831.1 1315.6" fill="none" stroke="#878787" stroke-width="12" stroke-linecap="round"/><path d="M831.1 1365.4A32.5 31.6 0 0 1 791.1 1365.4" fill="none" stroke="#878787" stroke-width="12" stroke-linecap="round"/>
<path d="M794.8 1312.8A32.5 32 0 0 1 827.3 1312.8" fill="none" stroke="#a3a3a3" stroke-width="8.4" stroke-linecap="round"/><path d="M827.3 1368.2A32.5 32 0 0 1 794.8 1368.2" fill="none" stroke="#a3a3a3" stroke-width="8.4" stroke-linecap="round"/>
<path d="M804.3 1308.8A32.5 32.4 0 0 1 817.8 1308.8" fill="none" stroke="#acacac" stroke-width="4.4" stroke-linecap="round"/><path d="M817.8 1372.2A32.5 32.4 0 0 1 804.3 1372.2" fill="none" stroke="#acacac" stroke-width="4.4" stroke-linecap="round"/>
<rect x="758.1" y="1322" width="27" height="37" rx="12" ry="15" fill="#1a1a1a"/>
<rect x="837.1" y="1322" width="27" height="37" rx="12" ry="15" fill="#1a1a1a"/>
<ellipse cx="776.6" cy="1340.5" rx="5" ry="10" fill="#000000"/><ellipse cx="845.6" cy="1340.5" rx="5" ry="10" fill="#000000"/>
<ellipse cx="811.1" cy="1323.9" rx="14" ry="6" fill="#4c4c4c"/><ellipse cx="811.1" cy="1357.1" rx="14" ry="6" fill="#4c4c4c"/>
<ellipse cx="811.1" cy="1323.9" rx="10.5" ry="4" fill="#0d0d0d"/><ellipse cx="811.1" cy="1357.1" rx="10.5" ry="4" fill="#0d0d0d"/>
<ellipse cx="811.1" cy="1340.5" rx="20" ry="11.5" fill="#808080"/>
<ellipse cx="811.1" cy="1340.5" rx="15.4" ry="8.8" fill="#a1a1a1"/>
<ellipse cx="811.1" cy="1340.5" rx="6.6" ry="3.8" fill="#bababa"/>
</g>
</g></g>
<text class="s" transform="translate(737.8 1298.8) scale(0.98 1)" font-size="39.8" stroke="#000" stroke-width="0.3">A<tspan font-size="25" dy="8.7">1</tspan></text>
<text class="s" transform="translate(932 45.2) scale(1.040 1)" font-size="52">(c)</text>
<text class="s" transform="translate(1105.1 45) scale(1.075 1)" font-size="25.5" text-anchor="middle" stroke="#000" stroke-width="0.15">600 nm</text>
<text class="s" transform="translate(1234.1 45) scale(1.075 1)" font-size="25.5" text-anchor="middle" stroke="#000" stroke-width="0.15">660 nm</text>
<text class="s" transform="translate(1363.1 45) scale(1.075 1)" font-size="25.5" text-anchor="middle" stroke="#000" stroke-width="0.15">730 nm</text>
<text class="s" transform="translate(1492.1 45) scale(1.075 1)" font-size="25.5" text-anchor="middle" stroke="#000" stroke-width="0.15">800 nm</text>
<text class="s" transform="translate(1621.1 45) scale(1.075 1)" font-size="25.5" text-anchor="middle" stroke="#000" stroke-width="0.15">880 nm</text>
<text class="s" transform="translate(1750.1 45) scale(1.075 1)" font-size="25.5" text-anchor="middle" stroke="#000" stroke-width="0.15">970 nm</text>
<g clip-path="url(#st0)"><g filter="url(#hot)">
<rect x="1025.6" y="46.6" width="790" height="111.4" fill="#060606"/>
<rect x="1025.6" y="86.9" width="790" height="30" fill="url(#mid)"/>
<circle cx="1098.1" cy="101.9" r="21.4" fill="url(#dge)" opacity="0.8"/><circle cx="1098.1" cy="101.9" r="21.9" fill="url(#rim)"/>
<circle cx="1227.1" cy="101.9" r="23.4" fill="url(#dge)" opacity="0.73"/><circle cx="1227.1" cy="101.9" r="23.9" fill="url(#rim)"/>
<circle cx="1356.1" cy="101.9" r="25.6" fill="url(#dge)" opacity="0.45"/><circle cx="1356.1" cy="101.9" r="26.1" fill="url(#rim)"/>
<circle cx="1485.1" cy="101.9" r="27.2" fill="url(#dge)" opacity="0.73"/><circle cx="1485.1" cy="101.9" r="27.7" fill="url(#rim)"/>
<circle cx="1614.1" cy="101.9" r="30.4" fill="url(#dgb)" opacity="0.9"/><circle cx="1614.1" cy="101.9" r="30.9" fill="url(#rim)"/>
<circle cx="1743.1" cy="101.9" r="33.2" fill="url(#dgb)" opacity="0.93"/><circle cx="1743.1" cy="101.9" r="33.7" fill="url(#rim)"/>
</g></g>
<rect x="1317.1" y="64.1" width="78" height="77" rx="14" fill="none" stroke="#fff" stroke-width="3.5" stroke-dasharray="12.8 5.4" stroke-dashoffset="3"/>
<text class="r" x="1045.2" y="147" font-size="27.2" fill="#fff" stroke="#fff" stroke-width="0.15">λ = 1425 nm</text>
<g clip-path="url(#st1)"><g filter="url(#hot)">
<rect x="1025.6" y="149" width="790" height="110.6" fill="#060606"/>
<rect x="1025.6" y="188.9" width="790" height="30" fill="url(#mid)"/>
<circle cx="1098.1" cy="203.9" r="21.4" fill="url(#dge)" opacity="0.82"/><circle cx="1098.1" cy="203.9" r="21.9" fill="url(#rim)"/>
<circle cx="1227.1" cy="203.9" r="23.4" fill="url(#dge)" opacity="0.82"/><circle cx="1227.1" cy="203.9" r="23.9" fill="url(#rim)"/>
<circle cx="1356.1" cy="203.9" r="25.6" fill="url(#dge)" opacity="0.7"/><circle cx="1356.1" cy="203.9" r="26.1" fill="url(#rim)"/>
<circle cx="1485.1" cy="203.9" r="27.2" fill="url(#dge)" opacity="0.45"/><circle cx="1485.1" cy="203.9" r="27.7" fill="url(#rim)"/>
<circle cx="1614.1" cy="203.9" r="30.4" fill="url(#dgb)" opacity="0.8"/><circle cx="1614.1" cy="203.9" r="30.9" fill="url(#rim)"/>
<circle cx="1743.1" cy="203.9" r="33.2" fill="url(#dgb)" opacity="0.83"/><circle cx="1743.1" cy="203.9" r="33.7" fill="url(#rim)"/>
</g></g>
<rect x="1446.1" y="166.1" width="78" height="77" rx="14" fill="none" stroke="#fff" stroke-width="3.5" stroke-dasharray="12.8 5.4" stroke-dashoffset="3"/>
<text class="r" x="1045.2" y="248.6" font-size="27.2" fill="#fff" stroke="#fff" stroke-width="0.15">λ = 1500 nm</text>
<g clip-path="url(#st2)"><g filter="url(#hot)">
<rect x="1025.6" y="250.7" width="790" height="111.1" fill="#060606"/>
<rect x="1025.6" y="290.9" width="790" height="30" fill="url(#mid)"/>
<circle cx="1098.1" cy="305.9" r="21.4" fill="url(#dge)" opacity="0.78"/><circle cx="1098.1" cy="305.9" r="21.9" fill="url(#rim)"/>
<circle cx="1227.1" cy="305.9" r="23.4" fill="url(#dge)" opacity="0.8"/><circle cx="1227.1" cy="305.9" r="23.9" fill="url(#rim)"/>
<circle cx="1356.1" cy="305.9" r="25.6" fill="url(#dge)" opacity="0.77"/><circle cx="1356.1" cy="305.9" r="26.1" fill="url(#rim)"/>
<circle cx="1485.1" cy="305.9" r="27.2" fill="url(#dge)" opacity="0.7"/><circle cx="1485.1" cy="305.9" r="27.7" fill="url(#rim)"/>
<circle cx="1614.1" cy="305.9" r="30.4" fill="url(#dge)" opacity="0.47"/><circle cx="1614.1" cy="305.9" r="30.9" fill="url(#rim)"/>
<circle cx="1743.1" cy="305.9" r="33.2" fill="url(#dge)" opacity="0.62"/><circle cx="1743.1" cy="305.9" r="33.7" fill="url(#rim)"/>
</g></g>
<rect x="1575.1" y="268.1" width="78" height="77" rx="14" fill="none" stroke="#fff" stroke-width="3.5" stroke-dasharray="12.8 5.4" stroke-dashoffset="3"/>
<text class="r" x="1045.2" y="350.8" font-size="27.2" fill="#fff" stroke="#fff" stroke-width="0.15">λ = 1640 nm</text>
<g clip-path="url(#st3)"><g filter="url(#hot)">
<rect x="1025.6" y="804.8" width="790" height="110.7" fill="#060606"/>
<rect x="1025.6" y="844.8" width="790" height="30" fill="url(#mid)"/>
<circle cx="1098.1" cy="859.8" r="21.4" fill="url(#dge)" opacity="0.68"/><circle cx="1098.1" cy="859.8" r="21.9" fill="url(#rim)"/>
<circle cx="1227.1" cy="859.8" r="23.4" fill="url(#dge)" opacity="0.55"/><circle cx="1227.1" cy="859.8" r="23.9" fill="url(#rim)"/>
<circle cx="1356.1" cy="859.8" r="25.6" fill="url(#dgm)" opacity="0.64"/><circle cx="1356.1" cy="859.8" r="26.1" fill="url(#rim)"/>
<g clip-path="url(#lc0)"><circle cx="1485.1" cy="859.8" r="27.2" fill="#383838"/><g opacity="0.76"><ellipse cx="1485.1" cy="846.1" rx="22.4" ry="15.2" fill="url(#dgl)"/><ellipse cx="1485.1" cy="873.4" rx="22.4" ry="15.2" fill="url(#dgl)"/></g><rect x="1457.9" y="858.5" width="54.4" height="2.4" fill="#000"/><circle cx="1485.1" cy="859.8" r="27.7" fill="url(#rim)"/></g>
<g clip-path="url(#lc1)"><circle cx="1614.1" cy="859.8" r="30.4" fill="#383838"/><g opacity="0.68"><ellipse cx="1614.1" cy="844.5" rx="22.8" ry="17" fill="url(#dgl)"/><ellipse cx="1614.1" cy="875" rx="22.8" ry="17" fill="url(#dgl)"/></g><rect x="1583.7" y="858.5" width="60.8" height="2.4" fill="#000"/><circle cx="1614.1" cy="859.8" r="30.9" fill="url(#rim)"/></g>
<g clip-path="url(#lc2)"><circle cx="1743.1" cy="859.8" r="33.2" fill="#383838"/><g opacity="0.66"><ellipse cx="1743.1" cy="843.1" rx="23.2" ry="18.6" fill="url(#dgl)"/><ellipse cx="1743.1" cy="876.4" rx="23.2" ry="18.6" fill="url(#dgl)"/></g><rect x="1709.9" y="858.5" width="66.4" height="2.4" fill="#000"/><circle cx="1743.1" cy="859.8" r="33.7" fill="url(#rim)"/></g>
</g></g>
<rect x="1188.1" y="822" width="78" height="77" rx="14" fill="none" stroke="#fff" stroke-width="3.5" stroke-dasharray="12.8 5.4" stroke-dashoffset="3"/>
<text class="r" x="1045.2" y="904.5" font-size="27.2" fill="#fff" stroke="#fff" stroke-width="0.15">λ = 900 nm</text>
<g clip-path="url(#st4)"><g filter="url(#hot)">
<rect x="1025.6" y="906.6" width="790" height="110.8" fill="#060606"/>
<rect x="1025.6" y="946.6" width="790" height="30" fill="url(#mid)"/>
<circle cx="1098.1" cy="961.6" r="21.4" fill="url(#dge)" opacity="0.74"/><circle cx="1098.1" cy="961.6" r="21.9" fill="url(#rim)"/>
<circle cx="1227.1" cy="961.6" r="23.4" fill="url(#dge)" opacity="0.71"/><circle cx="1227.1" cy="961.6" r="23.9" fill="url(#rim)"/>
<circle cx="1356.1" cy="961.6" r="25.6" fill="url(#dgm)" opacity="0.62"/><circle cx="1356.1" cy="961.6" r="26.1" fill="url(#rim)"/>
<circle cx="1485.1" cy="961.6" r="27.2" fill="url(#dgm)" opacity="0.5"/><circle cx="1485.1" cy="961.6" r="27.7" fill="url(#rim)"/>
<g clip-path="url(#lc3)"><circle cx="1614.1" cy="961.6" r="30.4" fill="#383838"/><g opacity="0.8"><ellipse cx="1614.1" cy="946.4" rx="32.7" ry="17" fill="url(#dgl)"/><ellipse cx="1614.1" cy="976.8" rx="32.7" ry="17" fill="url(#dgl)"/></g><rect x="1583.7" y="960.4" width="60.8" height="2.4" fill="#000"/><circle cx="1614.1" cy="961.6" r="30.9" fill="url(#rim)"/></g>
<g clip-path="url(#lc4)"><circle cx="1743.1" cy="961.6" r="33.2" fill="#383838"/><g opacity="0.73"><ellipse cx="1743.1" cy="945" rx="29.9" ry="18.6" fill="url(#dgl)"/><ellipse cx="1743.1" cy="978.2" rx="29.9" ry="18.6" fill="url(#dgl)"/></g><rect x="1709.9" y="960.4" width="66.4" height="2.4" fill="#000"/><circle cx="1743.1" cy="961.6" r="33.7" fill="url(#rim)"/></g>
</g></g>
<rect x="1446.1" y="923.8" width="78" height="77" rx="14" fill="none" stroke="#fff" stroke-width="3.5" stroke-dasharray="12.8 5.4" stroke-dashoffset="3"/>
<text class="r" x="1045.2" y="1006.4" font-size="27.2" fill="#fff" stroke="#fff" stroke-width="0.15">λ = 1000 nm</text>
<clipPath id="cp1"><rect x="1124.2" y="379.6" width="662.6" height="348.4"/></clipPath>
<path d="M1144 512.9h8.6v8.6h-8.6zM1168.1 455.4h8.6v8.6h-8.6zM1204.2 454.3h8.6v8.6h-8.6zM1234.3 465.3h8.6v8.6h-8.6zM1264.5 502.5h8.6v8.6h-8.6zM1300.6 493.2h8.6v8.6h-8.6zM1336.8 528.6h8.6v8.6h-8.6zM1372.9 601.2h8.6v8.6h-8.6zM1415.1 655.8h8.6v8.6h-8.6zM1457.2 697h8.6v8.6h-8.6zM1499.4 645.3h8.6v8.6h-8.6zM1541.6 576.8h8.6v8.6h-8.6zM1589.7 439.2h8.6v8.6h-8.6zM1637.9 408.4h8.6v8.6h-8.6zM1692.1 384h8.6v8.6h-8.6zM1746.4 397.9h8.6v8.6h-8.6z" fill="#000"/>
<path d="M1143.6 532.3a4.7 4.7 0 1 0 9.4 0a4.7 4.7 0 1 0 -9.4 0zM1167.7 474.8a4.7 4.7 0 1 0 9.4 0a4.7 4.7 0 1 0 -9.4 0zM1203.8 489.3a4.7 4.7 0 1 0 9.4 0a4.7 4.7 0 1 0 -9.4 0zM1233.9 492.8a4.7 4.7 0 1 0 9.4 0a4.7 4.7 0 1 0 -9.4 0zM1264.1 445.8a4.7 4.7 0 1 0 9.4 0a4.7 4.7 0 1 0 -9.4 0zM1300.2 443.5a4.7 4.7 0 1 0 9.4 0a4.7 4.7 0 1 0 -9.4 0zM1336.4 467.9a4.7 4.7 0 1 0 9.4 0a4.7 4.7 0 1 0 -9.4 0zM1372.5 516.1a4.7 4.7 0 1 0 9.4 0a4.7 4.7 0 1 0 -9.4 0zM1414.7 533.5a4.7 4.7 0 1 0 9.4 0a4.7 4.7 0 1 0 -9.4 0zM1456.8 564.8a4.7 4.7 0 1 0 9.4 0a4.7 4.7 0 1 0 -9.4 0zM1499 602a4.7 4.7 0 1 0 9.4 0a4.7 4.7 0 1 0 -9.4 0zM1541.2 672.8a4.7 4.7 0 1 0 9.4 0a4.7 4.7 0 1 0 -9.4 0zM1589.3 550.3a4.7 4.7 0 1 0 9.4 0a4.7 4.7 0 1 0 -9.4 0zM1637.5 454.5a4.7 4.7 0 1 0 9.4 0a4.7 4.7 0 1 0 -9.4 0zM1691.7 399.3a4.7 4.7 0 1 0 9.4 0a4.7 4.7 0 1 0 -9.4 0zM1746 398.8a4.7 4.7 0 1 0 9.4 0a4.7 4.7 0 1 0 -9.4 0z" fill="#f00"/>
<path d="M1148.3 523.8l5.5 9.4h-11zM1172.4 469.2l5.5 9.4h-11zM1208.5 465.7l5.5 9.4h-11zM1238.6 451.2l5.5 9.4h-11zM1268.8 416.4l5.5 9.4h-11zM1304.9 417.5l5.5 9.4h-11zM1341.1 431.5l5.5 9.4h-11zM1377.2 444.2l5.5 9.4h-11zM1419.4 436.1l5.5 9.4h-11zM1461.5 468l5.5 9.4h-11zM1503.7 459.3l5.5 9.4h-11zM1545.9 483.1l5.5 9.4h-11zM1594 533.1l5.5 9.4h-11zM1642.2 572l5.5 9.4h-11zM1696.4 561l5.5 9.4h-11zM1750.7 514.5l5.5 9.4h-11z" fill="#00f"/>
<g clip-path="url(#cp1)" fill="none" stroke-width="28" stroke-linejoin="round">
<path d="M1112.2 512C1114.2 510.8 1118.2 509.2 1124.2 505C1130.2 500.8 1140.3 492.8 1148.3 487C1156.3 481.2 1164.4 473.8 1172.4 470C1180.4 466.2 1188.5 464.7 1196.5 464C1204.5 463.3 1212.5 464.5 1220.6 466C1228.6 467.5 1235.6 469 1244.7 473C1253.7 477 1264.8 483.7 1274.8 490C1284.8 496.3 1293.9 501.3 1304.9 511C1316 520.7 1329 533.4 1341.1 548C1353.1 562.6 1367.2 584.4 1377.2 598.7C1387.2 613 1393.3 623 1401.3 634C1409.3 645 1418.4 656 1425.4 665C1432.4 674 1438 682 1443.5 688C1448.9 694 1453.3 699.7 1457.9 701C1462.5 702.3 1466.5 699.8 1471.2 696C1475.8 692.2 1481.3 683.6 1485.6 678C1490 672.4 1492.7 669.8 1497.3 662.1C1501.9 654.4 1507.9 642 1513.3 631.9C1518.8 621.8 1524.8 611.8 1530.1 601.7C1535.4 591.6 1540.6 581.6 1545.3 571.5C1549.9 561.4 1554.1 551.4 1558 541.3C1562 531.2 1565.3 521.1 1568.9 511C1572.4 500.9 1575.2 490.9 1579.2 480.8C1583.3 470.7 1587 460.7 1593.2 450.6C1599.4 440.5 1608.3 427.9 1616.6 420.4C1624.9 412.8 1634.7 409.2 1643 405.3C1651.2 401.4 1657.4 399.3 1666.3 397C1675.2 394.7 1686.4 392.9 1696.4 391.7C1706.5 390.5 1716.5 389.4 1726.6 390C1736.6 390.6 1746.6 392.5 1756.7 395C1766.7 397.5 1779.8 402.5 1786.8 405C1793.8 407.5 1796.8 409.2 1798.8 410" stroke="#000" stroke-opacity="0.3"/>
<path d="M1112.2 526C1114.2 525 1117.2 523.8 1124.2 520C1131.2 516.2 1144.3 508.5 1154.3 503C1164.4 497.5 1172.4 492.8 1184.4 487C1196.5 481.2 1212.5 473.6 1226.6 468C1240.7 462.4 1257.7 456.5 1268.8 453.7C1279.8 450.9 1286.8 451.3 1292.9 451C1298.9 450.7 1296.9 450.1 1304.9 452C1312.9 453.9 1329 456.4 1341.1 462.7C1353.1 469 1363.1 478.9 1377.2 490C1391.2 501.1 1411.4 515.9 1425.4 529C1439.3 542.1 1447.9 554.9 1460.9 568.5C1473.9 582.1 1492.6 599.2 1503.3 610.8C1514.1 622.4 1519.5 630.5 1525.5 637.9C1531.5 645.3 1534.9 651 1539.2 655C1543.5 659 1547.2 662 1551.3 662C1555.3 662 1559.9 658.5 1563.4 655C1567 651.5 1569.1 649.9 1572.6 641C1576.1 632.1 1581.5 613.3 1584.6 601.7C1587.8 590.1 1588.9 581.6 1591.4 571.5C1593.9 561.4 1596.9 551.4 1599.8 541.3C1602.8 531.2 1605.5 521.1 1609 511C1612.4 500.9 1615.9 490.9 1620.5 480.8C1625.2 470.7 1629.5 460.7 1636.9 450.6C1644.4 440.5 1655.1 427.9 1665.1 420.4C1675.2 412.8 1687 408.7 1697.3 405.3C1707.5 401.9 1717.5 401.2 1726.6 400C1735.6 398.8 1741.4 397.7 1751.6 397.8C1761.9 397.9 1780.1 400.3 1788 400.8C1795.9 401.3 1797 401 1798.8 401" stroke="#f00" stroke-opacity="0.3"/>
<path d="M1112.2 540C1114.2 538.2 1117.2 535.2 1124.2 529C1131.2 522.8 1144.3 511.5 1154.3 503C1164.4 494.5 1174.4 484.5 1184.4 477.8C1194.5 471.1 1205.5 467.5 1214.6 463C1223.6 458.5 1229.6 455.4 1238.6 450.6C1247.7 445.9 1259.7 437.8 1268.8 434.5C1277.8 431.2 1284.8 431.1 1292.9 431C1300.9 430.9 1308.9 432.5 1317 434C1325 435.5 1330 438 1341.1 440C1352.1 442 1369.2 444.4 1383.2 446C1397.3 447.6 1412.4 446.2 1425.4 449.5C1438.3 452.8 1447.9 460.7 1460.9 465.7C1473.9 470.7 1489.2 473.8 1503.3 479.3C1517.5 484.9 1534.3 492.2 1545.9 499C1557.4 505.8 1564.5 513.1 1572.6 520.1C1580.7 527.1 1586.3 533.8 1594.4 541.3C1602.5 548.8 1613.7 559.5 1621.1 565.4C1628.6 571.3 1633.5 574.5 1639.3 576.9C1645.1 579.3 1649.9 580 1656 579.9C1662 579.8 1668.8 578.1 1675.7 576C1682.6 573.9 1689.2 571.8 1697.3 567C1705.4 562.2 1715.2 554.2 1724.3 547.3C1733.3 540.4 1741 533.1 1751.6 525.6C1762.2 518.1 1780.1 507.1 1788 502C1795.9 496.9 1797 496.2 1798.8 495" stroke="#00f" stroke-opacity="0.3"/>
</g>
<line x1="1476.9" y1="379.6" x2="1476.9" y2="728" stroke="#000" stroke-width="2.6"/>
<line x1="1547" y1="379.6" x2="1547" y2="728" stroke="#f00" stroke-width="2.6"/>
<line x1="1680.9" y1="379.6" x2="1680.9" y2="728" stroke="#00f" stroke-width="2.6"/>
<text class="s" x="1312" y="707.4" font-size="23.8" stroke="#000" stroke-width="0.3">λ = 1425 nm</text>
<rect x="1516" y="690.8" width="134" height="23" fill="#fff"/>
<text class="s" x="1518" y="711.2" font-size="23.8" fill="#f00" stroke="#f00" stroke-width="0.3">λ = 1500 nm</text>
<rect x="1616" y="598.4" width="134" height="25.8" fill="#fff"/>
<text class="s" x="1617.9" y="619.2" font-size="23.8" fill="#00f" stroke="#00f" stroke-width="0.3">λ = 1640 nm</text>
<path d="M1184.4 728v-9M1184.4 379.6v9M1244.7 728v-5M1244.7 379.6v5M1304.9 728v-9M1304.9 379.6v9M1365.1 728v-5M1365.1 379.6v5M1425.4 728v-9M1425.4 379.6v9M1485.6 728v-5M1485.6 379.6v5M1545.9 728v-9M1545.9 379.6v9M1606.1 728v-5M1606.1 379.6v5M1666.3 728v-9M1666.3 379.6v9M1726.6 728v-5M1726.6 379.6v5M1124.2 728h9M1786.8 728h-9M1124.2 611.9h9M1786.8 611.9h-9M1124.2 495.7h9M1786.8 495.7h-9M1124.2 379.6h9M1786.8 379.6h-9M1124.2 669.9h5M1786.8 669.9h-5M1124.2 553.8h5M1786.8 553.8h-5M1124.2 437.7h5M1786.8 437.7h-5" stroke="#1a1a1a" stroke-width="2" fill="none"/>
<rect x="1124.2" y="379.6" width="662.6" height="348.4" fill="none" stroke="#1a1a1a" stroke-width="2.2"/>
<text class="s" transform="translate(1184.4 751.8) scale(0.965 1)" font-size="24.6" text-anchor="middle" fill="#111" stroke="#111" stroke-width="0.3">500</text>
<text class="s" transform="translate(1304.9 751.8) scale(0.965 1)" font-size="24.6" text-anchor="middle" fill="#111" stroke="#111" stroke-width="0.3">600</text>
<text class="s" transform="translate(1425.4 751.8) scale(0.965 1)" font-size="24.6" text-anchor="middle" fill="#111" stroke="#111" stroke-width="0.3">700</text>
<text class="s" transform="translate(1545.9 751.8) scale(0.965 1)" font-size="24.6" text-anchor="middle" fill="#111" stroke="#111" stroke-width="0.3">800</text>
<text class="s" transform="translate(1666.3 751.8) scale(0.965 1)" font-size="24.6" text-anchor="middle" fill="#111" stroke="#111" stroke-width="0.3">900</text>
<text class="s" transform="translate(1786.8 751.8) scale(0.965 1)" font-size="24.6" text-anchor="middle" fill="#111" stroke="#111" stroke-width="0.3">1000</text>
<text class="s" transform="translate(1113 736.6) scale(0.980 1)" font-size="24.6" text-anchor="end" fill="#111" stroke="#111" stroke-width="0.3">0.4</text>
<text class="s" transform="translate(1113 620.5) scale(0.980 1)" font-size="24.6" text-anchor="end" fill="#111" stroke="#111" stroke-width="0.3">0.6</text>
<text class="s" transform="translate(1113 504.3) scale(0.980 1)" font-size="24.6" text-anchor="end" fill="#111" stroke="#111" stroke-width="0.3">0.8</text>
<text class="s" transform="translate(1113 388.2) scale(0.980 1)" font-size="24.6" text-anchor="end" fill="#111" stroke="#111" stroke-width="0.3">1.0</text>
<text class="s" transform="translate(1455.8 790.9) scale(1.046 1)" font-size="26" text-anchor="middle" fill="#111" stroke="#111" stroke-width="0.3">Disc diameter (nm)</text>
<text class="s" transform="translate(1056.5 567.6) rotate(-90) scale(1.052 1)" font-size="26" text-anchor="middle" fill="#111" stroke="#111" stroke-width="0.3">Average experimental |<tspan font-style="italic">E</tspan><tspan font-style="italic" font-size="15" dy="5">z</tspan><tspan dy="-5">| (a.u.)</tspan></text>
<text class="s" x="1155.6" y="675" font-size="38.4" fill="#111" stroke="#111" stroke-width="0.3">A<tspan font-size="29" dy="6.8">1</tspan></text>
<clipPath id="cp2"><rect x="1124.2" y="1042.5" width="662.6" height="348.8"/></clipPath>
<path d="M1148.3 1208.5l-5.5 -9.4h11zM1172.4 1162.4l-5.5 -9.4h11zM1208.5 1113.6l-5.5 -9.4h11zM1238.6 1100.3l-5.5 -9.4h11zM1268.8 1108.7l-5.5 -9.4h11zM1304.9 1129.6l-5.5 -9.4h11zM1341.1 1173.6l-5.5 -9.4h11zM1377.2 1250.3l-5.5 -9.4h11zM1419.4 1098.2l-5.5 -9.4h11zM1461.5 1085l-5.5 -9.4h11zM1503.7 1085l-5.5 -9.4h11zM1545.9 1156.8l-5.5 -9.4h11zM1594 1210.5l-5.5 -9.4h11zM1642.2 1290.8l-5.5 -9.4h11zM1696.4 1338.9l-5.5 -9.4h11zM1750.7 1391.2l-5.5 -9.4h11z" fill="#f0f"/>
<path d="M1148.3 1179.3L1149.8 1183.5L1154.2 1183.6L1150.7 1186.3L1151.9 1190.5L1148.3 1188L1144.7 1190.5L1145.9 1186.3L1142.4 1183.6L1146.8 1183.5zM1172.4 1106.8L1173.9 1110.9L1178.3 1111L1174.8 1113.7L1176 1118L1172.4 1115.5L1168.7 1118L1170 1113.7L1166.5 1111L1170.9 1110.9zM1208.5 1113L1210 1117.2L1214.4 1117.3L1210.9 1120L1212.2 1124.3L1208.5 1121.7L1204.9 1124.3L1206.2 1120L1202.6 1117.3L1207.1 1117.2zM1238.6 1120.7L1240.1 1124.9L1244.5 1125L1241 1127.7L1242.3 1131.9L1238.6 1129.4L1235 1131.9L1236.3 1127.7L1232.8 1125L1237.2 1124.9zM1268.8 1113.7L1270.2 1117.9L1274.7 1118L1271.1 1120.7L1272.4 1124.9L1268.8 1122.4L1265.1 1124.9L1266.4 1120.7L1262.9 1118L1267.3 1117.9zM1304.9 1087.9L1306.4 1092.1L1310.8 1092.2L1307.3 1094.9L1308.6 1099.1L1304.9 1096.6L1301.3 1099.1L1302.5 1094.9L1299 1092.2L1303.4 1092.1zM1341.1 1083.7L1342.5 1087.9L1346.9 1088L1343.4 1090.7L1344.7 1095L1341.1 1092.4L1337.4 1095L1338.7 1090.7L1335.2 1088L1339.6 1087.9zM1377.2 1128.4L1378.7 1132.6L1383.1 1132.7L1379.6 1135.4L1380.8 1139.6L1377.2 1137.1L1373.5 1139.6L1374.8 1135.4L1371.3 1132.7L1375.7 1132.6zM1419.4 1113.7L1420.8 1117.9L1425.3 1118L1421.7 1120.7L1423 1124.9L1419.4 1122.4L1415.7 1124.9L1417 1120.7L1413.5 1118L1417.9 1117.9zM1461.5 1156.3L1463 1160.5L1467.4 1160.6L1463.9 1163.3L1465.2 1167.5L1461.5 1165L1457.9 1167.5L1459.1 1163.3L1455.6 1160.6L1460.1 1160.5zM1503.7 1192.6L1505.2 1196.7L1509.6 1196.8L1506.1 1199.5L1507.3 1203.8L1503.7 1201.3L1500 1203.8L1501.3 1199.5L1497.8 1196.8L1502.2 1196.7zM1545.9 1244.2L1547.3 1248.4L1551.8 1248.5L1548.2 1251.2L1549.5 1255.4L1545.9 1252.9L1542.2 1255.4L1543.5 1251.2L1540 1248.5L1544.4 1248.4zM1594 1071.2L1595.5 1075.4L1599.9 1075.5L1596.4 1078.2L1597.7 1082.4L1594 1079.9L1590.4 1082.4L1591.7 1078.2L1588.1 1075.5L1592.6 1075.4zM1642.2 1094.2L1643.7 1098.4L1648.1 1098.5L1644.6 1101.2L1645.9 1105.4L1642.2 1102.9L1638.6 1105.4L1639.9 1101.2L1636.3 1098.5L1640.8 1098.4zM1696.4 1115.8L1697.9 1120L1702.3 1120.1L1698.8 1122.8L1700.1 1127L1696.4 1124.5L1692.8 1127L1694.1 1122.8L1690.5 1120.1L1695 1120zM1750.7 1217L1752.1 1221.2L1756.6 1221.3L1753 1224L1754.3 1228.2L1750.7 1225.7L1747 1228.2L1748.3 1224L1744.8 1221.3L1749.2 1221.2z" fill="#ff7f00"/>
<g clip-path="url(#cp2)" fill="none" stroke-width="28" stroke-linejoin="round">
<path d="M1112.2 1280C1114.2 1276.1 1118.2 1267.4 1124.2 1256.5C1130.2 1245.6 1141.3 1227.3 1148.3 1214.6C1155.3 1201.8 1160.3 1191.5 1166.4 1180C1172.4 1168.5 1177.4 1156.4 1184.4 1145.7C1191.5 1135 1201.5 1123.1 1208.5 1115.8C1215.6 1108.5 1221.6 1105 1226.6 1102C1231.6 1099 1234.2 1098.5 1238.6 1097.8C1243.1 1097.1 1248.1 1097.2 1253.1 1098C1258.1 1098.8 1263.1 1100 1268.8 1102.3C1274.4 1104.6 1280.8 1107.8 1286.8 1112C1292.9 1116.2 1298.9 1122.1 1304.9 1127.8C1310.9 1133.5 1317 1139 1323 1146C1329 1153 1335.6 1161 1341.1 1169.7C1346.5 1178.4 1351.5 1189 1355.5 1198C1359.5 1207 1362.3 1217.3 1365.1 1223.6C1368 1229.9 1370.2 1233.3 1372.4 1236C1374.6 1238.7 1376.4 1240 1378.4 1240C1380.4 1240 1382.4 1240.2 1384.4 1236C1386.4 1231.8 1388.2 1224.3 1390.4 1215C1392.7 1205.7 1395.3 1191.2 1397.7 1180C1400.1 1168.8 1402.3 1157.7 1404.9 1148C1407.5 1138.3 1410.5 1129.3 1413.3 1122C1416.1 1114.7 1418.8 1109.3 1421.8 1104C1424.8 1098.7 1427.8 1094 1431.4 1090C1435 1086 1439.4 1082.6 1443.5 1079.9C1447.5 1077.2 1451.5 1075.2 1455.5 1074C1459.5 1072.8 1462.5 1072.1 1467.5 1072.4C1472.6 1072.7 1479.6 1074 1485.6 1076C1491.6 1078 1497.7 1079.6 1503.7 1084.4C1509.7 1089.2 1514.7 1094.8 1521.8 1105C1528.8 1115.2 1537.8 1133.4 1545.9 1145.7C1553.9 1158 1561.9 1168 1569.9 1179C1578 1190 1586 1200.6 1594 1211.6C1602.1 1222.6 1610.1 1234 1618.1 1245C1626.2 1256 1634.2 1267.8 1642.2 1277.5C1650.3 1287.2 1657.3 1294 1666.3 1303C1675.4 1312 1686.4 1322.9 1696.4 1331.4C1706.5 1339.9 1717.5 1347.8 1726.6 1354C1735.6 1360.2 1740.6 1362.6 1750.7 1368.8C1760.7 1375 1778.8 1386.1 1786.8 1391C1794.8 1395.9 1796.8 1396.8 1798.8 1398" stroke="#f0f" stroke-opacity="0.3"/>
<path d="M1112.2 1262C1114.2 1256.6 1120.2 1239.6 1124.2 1229.6C1128.2 1219.6 1132.2 1211 1136.2 1202C1140.3 1193 1144.3 1184.4 1148.3 1175.7C1152.3 1167 1156.3 1158 1160.3 1150C1164.4 1142 1168.4 1133.8 1172.4 1127.8C1176.4 1121.8 1180.4 1117.5 1184.4 1114C1188.5 1110.5 1191.5 1108.5 1196.5 1106.8C1201.5 1105 1207.5 1104.2 1214.6 1103.5C1221.6 1102.8 1228.6 1102.9 1238.6 1102.3C1248.7 1101.7 1263.7 1100.5 1274.8 1100C1285.8 1099.5 1293.9 1098.9 1304.9 1099.3C1316 1099.7 1329 1099.8 1341.1 1102.3C1353.1 1104.8 1364.1 1109 1377.2 1114.3C1390.2 1119.5 1405.3 1126.6 1419.4 1133.8C1433.4 1141 1450.5 1150.3 1461.5 1157.7C1472.6 1165.1 1478.6 1171.5 1485.6 1178C1492.6 1184.5 1498.3 1189.3 1503.7 1196.6C1509.1 1203.9 1514.1 1214.5 1518.1 1222C1522.2 1229.5 1524.8 1236.9 1527.8 1241.6C1530.8 1246.3 1533.6 1248.4 1536.2 1250C1538.8 1251.6 1540.8 1252 1543.4 1251C1546.1 1250 1549.1 1248.8 1551.9 1244C1554.7 1239.2 1557.3 1231 1560.3 1222C1563.3 1213 1566.7 1201.2 1569.9 1190C1573.2 1178.8 1576.6 1165.3 1579.6 1155C1582.6 1144.7 1585.2 1135.8 1588 1128C1590.8 1120.2 1593.4 1113.5 1596.5 1108C1599.5 1102.5 1602.5 1098.3 1606.1 1095C1609.7 1091.7 1614.1 1089 1618.1 1088C1622.2 1087 1626.2 1087.8 1630.2 1089C1634.2 1090.2 1636.2 1091.2 1642.2 1094.9C1648.3 1098.6 1657.3 1104.5 1666.3 1111C1675.4 1117.5 1686.4 1124 1696.4 1133.8C1706.5 1143.6 1717.5 1158 1726.6 1170C1735.6 1182 1743.6 1195.1 1750.7 1205.6C1757.7 1216.1 1762.7 1224 1768.7 1233C1774.8 1242 1781.8 1252 1786.8 1259.5C1791.8 1267 1796.8 1274.9 1798.8 1278" stroke="#ff8000" stroke-opacity="0.3"/>
</g>
<line x1="1384.4" y1="1042.5" x2="1384.4" y2="1391.3" stroke="#f0f" stroke-width="2.6"/>
<line x1="1533.3" y1="1042.5" x2="1533.3" y2="1391.3" stroke="#ff7f00" stroke-width="2.6"/>
<text class="s" x="1259.5" y="1273" font-size="23.8" fill="#f0f" stroke="#f0f" stroke-width="0.3">λ = 900 nm</text>
<rect x="1462" y="1271.3" width="136" height="29.7" fill="#fff"/>
<text class="s" x="1464.6" y="1295.1" font-size="23.8" fill="#ff7f00" stroke="#ff7f00" stroke-width="0.3">λ = 1000 nm</text>
<path d="M1184.4 1391.3v-9M1184.4 1042.5v9M1244.7 1391.3v-5M1244.7 1042.5v5M1304.9 1391.3v-9M1304.9 1042.5v9M1365.1 1391.3v-5M1365.1 1042.5v5M1425.4 1391.3v-9M1425.4 1042.5v9M1485.6 1391.3v-5M1485.6 1042.5v5M1545.9 1391.3v-9M1545.9 1042.5v9M1606.1 1391.3v-5M1606.1 1042.5v5M1666.3 1391.3v-9M1666.3 1042.5v9M1726.6 1391.3v-5M1726.6 1042.5v5M1124.2 1356.4h9M1786.8 1356.4h-9M1124.2 1216.9h9M1786.8 1216.9h-9M1124.2 1077.4h9M1786.8 1077.4h-9M1124.2 1286.7h5M1786.8 1286.7h-5M1124.2 1147.1h5M1786.8 1147.1h-5" stroke="#1a1a1a" stroke-width="2" fill="none"/>
<rect x="1124.2" y="1042.5" width="662.6" height="348.8" fill="none" stroke="#1a1a1a" stroke-width="2.2"/>
<text class="s" transform="translate(1184.4 1415.1) scale(0.965 1)" font-size="24.6" text-anchor="middle" fill="#111" stroke="#111" stroke-width="0.3">500</text>
<text class="s" transform="translate(1304.9 1415.1) scale(0.965 1)" font-size="24.6" text-anchor="middle" fill="#111" stroke="#111" stroke-width="0.3">600</text>
<text class="s" transform="translate(1425.4 1415.1) scale(0.965 1)" font-size="24.6" text-anchor="middle" fill="#111" stroke="#111" stroke-width="0.3">700</text>
<text class="s" transform="translate(1545.9 1415.1) scale(0.965 1)" font-size="24.6" text-anchor="middle" fill="#111" stroke="#111" stroke-width="0.3">800</text>
<text class="s" transform="translate(1666.3 1415.1) scale(0.965 1)" font-size="24.6" text-anchor="middle" fill="#111" stroke="#111" stroke-width="0.3">900</text>
<text class="s" transform="translate(1786.8 1415.1) scale(0.965 1)" font-size="24.6" text-anchor="middle" fill="#111" stroke="#111" stroke-width="0.3">1000</text>
<text class="s" transform="translate(1113 1365) scale(0.980 1)" font-size="24.6" text-anchor="end" fill="#111" stroke="#111" stroke-width="0.3">0.6</text>
<text class="s" transform="translate(1113 1225.5) scale(0.980 1)" font-size="24.6" text-anchor="end" fill="#111" stroke="#111" stroke-width="0.3">0.8</text>
<text class="s" transform="translate(1113 1086) scale(0.980 1)" font-size="24.6" text-anchor="end" fill="#111" stroke="#111" stroke-width="0.3">1.0</text>
<text class="s" transform="translate(1455.8 1447.6) scale(1.046 1)" font-size="26" text-anchor="middle" fill="#111" stroke="#111" stroke-width="0.3">Disc diameter (nm)</text>
<text class="s" transform="translate(1056.5 1230.5) rotate(-90) scale(1.052 1)" font-size="26" text-anchor="middle" fill="#111" stroke="#111" stroke-width="0.3">Average experimental |<tspan font-style="italic">E</tspan><tspan font-style="italic" font-size="15" dy="5">z</tspan><tspan dy="-5">| (a.u.)</tspan></text>
<text class="s" x="1155.6" y="1347.1" font-size="38.4" fill="#111" stroke="#111" stroke-width="0.3">A<tspan font-size="29" dy="6.8">2</tspan></text>
</svg>
</body>
</html>
